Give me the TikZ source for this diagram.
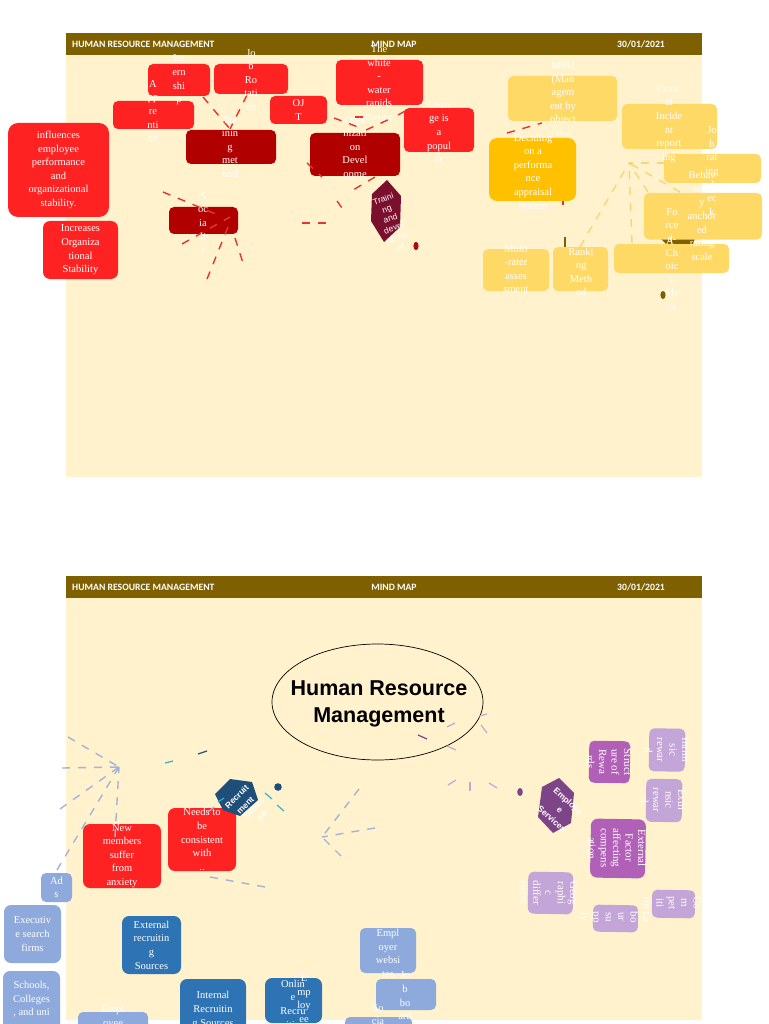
\documentclass[tikz,border=0pt]{standalone}
\usepackage{fontspec}
\setmainfont{Liberation Serif}
\newfontfamily\hdr{Carlito}
\newfontfamily\arial{Liberation Sans}
\usetikzlibrary{shapes.geometric}
\definecolor{cream}{HTML}{FFF2CC}
\definecolor{bar}{HTML}{7F6000}
\definecolor{redA}{HTML}{FF2222}
\definecolor{redB}{HTML}{B00000}
\definecolor{redL}{HTML}{E63333}
\definecolor{wine}{HTML}{7A0F2E}
\definecolor{goldA}{HTML}{FFD966}
\definecolor{goldL}{HTML}{F7D774}
\definecolor{goldB}{HTML}{FFC000}
\definecolor{blueA}{HTML}{2E74B5}
\definecolor{blueB}{HTML}{8EA9DB}
\definecolor{blueL}{HTML}{A3B4D8}
\definecolor{navy}{HTML}{1F4E79}
\definecolor{cyanl}{HTML}{2EB5CC}
\definecolor{purA}{HTML}{B160B8}
\definecolor{purB}{HTML}{C3A5D8}
\definecolor{purC}{HTML}{7E4488}
\tikzset{x=1pt,y=-1pt,
 box/.style={rounded corners=#1,inner sep=0pt,text=white,align=center,font=\fontsize{10.5}{13.6}\selectfont},
 box/.default=5pt,
 rbox/.style={box=5pt,fill=redA},
 dbox/.style={box=5pt,fill=redB},
 gbox/.style={box=5pt,fill=goldA},
 bbox/.style={box=5pt,fill=blueA},
 lbox/.style={box=5pt,fill=blueB},
 txt/.style={text=white,align=center,inner sep=0pt,font=\fontsize{10.5}{13.6}\selectfont},
 ptxt/.style={text=white,align=center,inner sep=0pt,rotate=-90,font=\fontsize{11}{12.4}\selectfont},
 hdrtext/.style={text=white,font=\hdr\bfseries\fontsize{9.7}{11}\selectfont,inner sep=0pt},
 lnk/.style={dash pattern=on 8pt off 8pt,line width=1.4pt,color=#1},
 tick/.style={line width=1.2pt,color=#1}
}
\newcommand{\bx}[7]{\node[#1,minimum width=#5pt-#3pt,minimum height=#6pt-#4pt,anchor=center] (#2) at ({(#3+#5)/2},{(#4+#6)/2}) {#7};}
\newcommand{\tx}[4]{\node[txt] (#1) at (#2,#3) {#4};}
\newcommand{\ptx}[4]{\node[ptxt] (#1) at (#2,#3) {#4};}
\newcommand{\pb}[6]{\node[box=#6,fill=#5,rotate=-1,minimum width=#3pt,minimum height=#4pt] (#1) at #2 {};}
\newcommand{\lk}[4]{\coordinate (#1a) at (#3); \coordinate (#1b) at (#4); \draw[#2] (#1a) -- (#1b);}
\begin{document}
\begin{tikzpicture}
\useasboundingbox (0,0) rectangle (768,1024);
\fill[white] (0,0) rectangle (768,1024);
% ---------- page 1
\fill[cream] (66,33) rectangle (702,477);
\node[fill=bar,minimum width=636pt,minimum height=22pt,inner sep=0pt] (bar1) at (384,44) {};
\node[hdrtext,anchor=west] (h1a) at (72,44) {HUMAN RESOURCE MANAGEMENT};
\node[hdrtext] (h1b) at (394,44) {MIND MAP};
\node[hdrtext] (h1c) at (641,44) {30/01/2021};
% boxes
\bx{rbox}{appr}{113}{101}{194}{129}{}
\bx{rbox}{inte}{148}{64}{210}{96}{}
\bx{rbox}{jobr}{214}{64}{288}{94}{}
\bx{rbox}{ojt}{270}{96}{327}{124}{OJ\\T}
\bx{rbox}{wh}{336}{60}{423}{105}{}
\bx{rbox}{chg}{404}{108}{474}{152}{}
\bx{dbox}{trm}{186}{130}{276}{164}{}
\bx{dbox}{org}{310}{133}{400}{176}{}
\bx{dbox}{soc}{169}{207}{238}{234}{}
\bx{box=10pt,fill=redA}{inf}{8}{123}{109}{217}{influences\\employee\\performance\\and\\organizational\\stability.}
\bx{box=7pt,fill=redA}{inc}{43}{221}{118}{279}{Increases\\Organiza\\tional\\Stability}
\bx{gbox}{mbo}{508}{76}{617}{121}{}
\bx{box=8pt,fill=goldB}{dec}{489}{138}{576}{201}{}
\bx{gbox}{cri}{622}{104}{717}{149}{}
\bx{gbox}{jobc}{664}{154}{761}{183}{}
\fill[bar] (660,238) -- (695,238) -- (693,244) -- (666,244) -- cycle;
\bx{gbox}{for}{644}{193}{762}{239.5}{}
\bx{gbox}{che}{614}{244}{729}{273}{}
\bx{gbox}{mul}{483}{249}{549}{291}{}
\bx{gbox}{ran}{553}{247}{608}{291}{}
% red connectors
\lk{r1}{lnk=redL}{203,97}{230,129}
\lk{r2}{lnk=redL}{247,95}{230,129}
\lk{r3}{lnk=redL}{334,118}{358,127}
\lk{r4}{lnk=redL}{355,117}{366,117}
\lk{r5}{lnk=redL}{366,130}{392,118}
\lk{r6}{lnk=redL}{398,115}{407,110}
\lk{r7}{lnk=redL}{307,163}{322,177}
\lk{r8}{lnk=redL}{375,177}{353,190}
\lk{r9}{lnk=redL}{337,201}{342,208}
\lk{r10}{lnk=redL}{302,223}{327,223}
\lk{r11}{lnk=redL}{163,192}{218,215}
\lk{r12}{lnk=redL}{182,244}{230,217}
\lk{r13}{lnk=redL}{207,279}{230,222}
\lk{r14}{lnk=redL}{235,238}{243,263}
\lk{r15}{lnk=redL}{507,133}{542,123}
\lk{r16}{tick=bar}{565,237}{565,247}
\lk{r17}{tick=redL}{563,201}{563,205}
% gold connectors
\coordinate (gh) at (629,163);
\coordinate (g1) at (580,247);
\coordinate (g2) at (632,243);
\coordinate (g3) at (665,163);
\coordinate (g4) at (680,192);
\coordinate (g5) at (648,192);
\draw[lnk=goldL] (g1) -- (gh);
\draw[lnk=goldL] (g2) -- (gh);
\draw[lnk=goldL] (g3) -- (gh);
\draw[lnk=goldL] (g4) -- (gh);
\draw[lnk=goldL] (g5) -- (gh);
% texts
\tx{appt}{153}{111}{A\\pp\\re\\nti\\ce}
\tx{intt}{179}{80}{Int\\ern\\shi\\p}
\tx{jobt}{251}{80}{Jo\\b\\Ro\\tati\\on}
\tx{trmt}{230}{147}{Tra\\inin\\g\\met\\hod}
\tx{wht}{379}{84}{The\\white\\-\\water\\rapids\\theory}
\tx{chgt}{439}{132}{Chan\\ge is\\a\\popul\\ar}
\tx{orgt}{355}{148}{Orga\\nizati\\on\\Devel\\opme}
\tx{soct}{203}{223}{S\\oc\\ia\\li\\z}
\tx{mbot}{563}{99}{MBO\\(Man\\agem\\ent by\\object\\ive}
\tx{dect}{533}{172.5}{Deciding\\on a\\performa\\nce\\appraisal\\system}
\tx{crit}{669}{124}{Critic\\al\\Incide\\nt\\report\\ing}
\tx{jobt2}{712}{171}{Jo\\b\\rat\\ing\\ch\\ec\\k}
\tx{bart}{702}{216}{Behav\\iour\\y\\anchor\\ed\\rating\\scale}
\tx{fort}{672}{259.5}{Fo\\rce\\d-\\Ch\\oic\\e\\Me\\th}
\tx{fora}{670}{241}{A}
\tx{mult}{516}{269}{Multi\\-rater\\asses\\sment}
\tx{rant}{581}{272}{Ranki\\ng\\Meth\\od}
% training hexagon
\fill[wine] (387,180) -- (401,196) -- (400,227) -- (384,242) -- (371,221) -- (372,194) -- cycle;
\node[text=white,align=center,rotate=20,font=\arial\fontsize{8.5}{10.2}\selectfont,inner sep=0pt] (trn) at (392,223) {Traini\\ng\\and\\devel\\opme\\nt};
\fill[wine!60!red] (416,246) ellipse (2.6pt and 4.2pt);
\fill[bar] (663,295) ellipse (2.6pt and 4pt);
% ---------- page 2
\fill[cream] (66,576) rectangle (702,1020);
\node[fill=bar,minimum width=636pt,minimum height=22pt,inner sep=0pt] (bar2) at (384,587) {};
\node[hdrtext,anchor=west] (h2a) at (72,587) {HUMAN RESOURCE MANAGEMENT};
\node[hdrtext] (h2b) at (394,587) {MIND MAP};
\node[hdrtext] (h2c) at (641,587) {30/01/2021};
\node[ellipse,draw=black,line width=.7pt,minimum width=211pt,minimum height=116pt,inner sep=0pt] (hrmring) at (377.5,702) {};
\node[align=center,inner sep=0pt,font=\arial\bfseries\fontsize{21.5}{27}\selectfont] (hrm) at (379,704) {Human Resource\\Management};
% boxes
\bx{box=7pt,fill=redA}{nm}{83}{824}{161}{888}{New\\members\\suffer\\from\\anxiety}
\bx{box=7pt,fill=redA}{ntb}{168}{808}{236}{871}{Needs to\\be\\consistent\\with\\..}
\bx{lbox}{ads}{41}{873}{72}{902}{Ad\\s}
\bx{box=7pt,fill=blueB}{exe}{4}{905}{61}{963}{Executiv\\e search\\firms}
\bx{box=7pt,fill=blueB}{sch}{3}{971}{60}{1040}{}
\bx{box=7pt,fill=blueA}{ext}{122}{916}{181}{974}{External\\recruitin\\g\\Sources}
\bx{box=7pt,fill=blueA}{intr}{180}{979}{246}{1040}{}
\bx{box=7pt,fill=blueA}{onl}{265}{978}{322}{1023}{}
\bx{lbox}{emp}{78}{1012}{148}{1040}{}
\bx{lbox}{web}{360}{928}{416}{973}{}
\bx{lbox}{jbb}{376}{979}{436}{1010}{}
\bx{lbox}{sm}{345}{1017}{412}{1040}{}
% blue connectors
\coordinate (bh) at (119,767);
\coordinate (b1) at (68,737);
\coordinate (b2) at (62,768);
\coordinate (b3) at (60,809);
\coordinate (b4) at (57,870);
\coordinate (b5) at (115,837);
\draw[lnk=blueL] (b1) -- (bh);
\draw[lnk=blueL] (b2) -- (bh);
\draw[lnk=blueL] (b3) -- (bh);
\draw[lnk=blueL] (b4) -- (bh);
\draw[lnk=blueL] (b5) -- (bh);
\coordinate (bi) at (322,837);
\coordinate (b6) at (359,789);
\coordinate (b7) at (375,828);
\coordinate (b8) at (341,856);
\draw[lnk=blueL] (b6) -- (bi);
\draw[lnk=blueL] (b7) -- (bi);
\draw[lnk=blueL] (b8) -- (bi);
\lk{b9}{lnk=blueL}{210,877}{265,887}
\lk{b10}{tick=blueL}{207,813}{214,807}
\lk{c1}{tick=cyanl}{165,763}{173,761}
\lk{c2}{tick=navy}{198,754}{207,751}
\lk{c3}{tick=cyanl}{265,793}{272,799}
\lk{c4}{tick=cyanl}{277,805}{284,811}
% purple ticks
\lk{p1}{tick=purB}{447,727}{455,723}
\lk{p2}{tick=purB}{479,716}{487,714}
\lk{p3}{tick=purB}{481,725}{487,733}
\lk{p4}{tick=purC}{418,735}{427,739}
\lk{p5}{tick=purB}{447,746}{456,750}
\lk{p6}{tick=purB}{448,785}{456,780}
\lk{p7}{tick=purB}{470,782}{470,791}
\lk{p8}{tick=purB}{489,783}{497,788}
% recruitment hexagon
\fill[navy] (230,779) -- (252,782) -- (258,800) -- (240,816) -- (223,810) -- (215,794) -- cycle;
\lk{c5}{tick=cyanl}{218,802}{224,798}
\node[text=white,align=center,rotate=45,font=\arial\bfseries\fontsize{8.5}{12}\selectfont,inner sep=0pt] (rec) at (241,801) {Recruit\\ment};
\node[text=white,rotate=45,align=center,font=\arial\bfseries\fontsize{8}{11}\selectfont,inner sep=0pt] (sel) at (258,812) {Selecti\\on};
\fill[navy] (278,787) circle (3.8pt);
% texts
\tx{scht}{31.5}{999.5}{Schools,\\Colleges\\, and uni}
\tx{intrt}{213}{1010}{Internal\\Recruitin\\g Sources}
\tx{onlt}{293}{1004}{Onlin\\e\\Recru\\itin}
\tx{empt}{304}{998.5}{E\\mp\\loy\\ee}
\tx{emrt}{113}{1017}{Empl\\oyee}
\tx{webt}{388}{953.5}{Empl\\oyer\\websi\\tes}
\tx{jbbt}{405}{996}{Jo\\b\\bo\\ard}
\tx{smt}{378}{1014.5}{So\\cia}
% purple
\fill[purC] (559,778) -- (574,793) -- (571,823) -- (553,833) -- (538,817) -- (542,787) -- cycle;
\node[text=white,align=center,rotate=-42,font=\arial\bfseries\fontsize{8.5}{12}\selectfont,inner sep=0pt] (ems) at (560,810) {Employe\\e\\Services};
\fill[purC] (520,792) ellipse (2.8pt and 4pt);
\pb{str}{(609.5,762)}{41}{42}{purA}{5pt}
\pb{ins}{(667,750)}{36}{43}{purB}{5pt}
\pb{exs}{(664,800.5)}{36}{43}{purB}{5pt}
\pb{fac}{(618,848.5)}{55}{59}{purA}{7pt}
\pb{geo}{(550.5,893)}{45}{42}{purB}{6pt}
\pb{lab}{(615.5,918.5)}{45}{27}{purB}{5pt}
\pb{com}{(673.5,904)}{43}{28}{purB}{5pt}
\ptx{strt}{609}{762}{Struct\\ure of\\Rewa\\rds}
\ptx{inst}{667}{750}{Intrin\\sic\\rewar\\d}
\ptx{exst}{663}{800}{Extri\\nsic\\rewar\\d}
\ptx{fact}{617}{848}{External\\Factor\\affecting\\compens\\ation}
\ptx{geot}{549}{893}{Geog\\raphi\\c\\differ\\ences}
\ptx{labt}{614.5}{917}{La\\bo\\ur\\su\\pp\\ly}
\ptx{comt}{672.5}{903}{Co\\m\\pet\\iti\\on}
\end{tikzpicture}
\end{document}
